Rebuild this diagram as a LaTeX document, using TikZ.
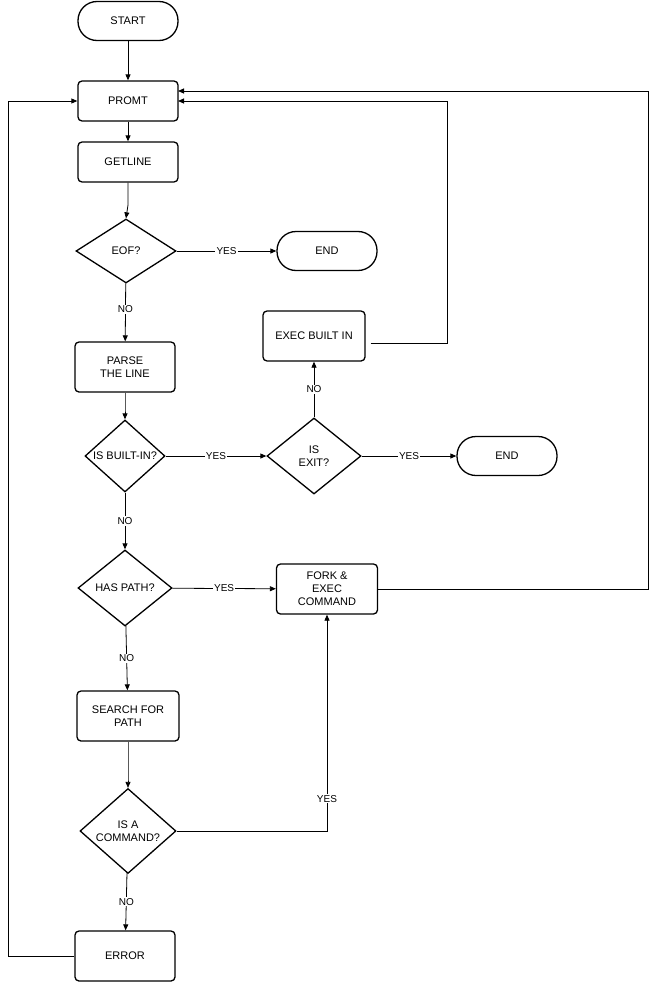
\documentclass[tikz,border=0pt]{standalone}
\usepackage{fontspec}
\setmainfont{Liberation Sans}
\usetikzlibrary{shapes.geometric,arrows.meta}
\begin{document}
\begin{tikzpicture}[x=1pt,y=-1pt,
 base/.style={draw,line width=1.3pt,align=center,font=\fontsize{11}{13}\selectfont,inner sep=0},
 term/.style={base,rounded corners=19pt,minimum width=100pt,minimum height=39pt},
 proc/.style={base,rounded corners=4pt,minimum width=100pt,minimum height=40pt},
 dec/.style={base,diamond},
 con/.style={line width=0.8pt,-{Triangle[length=6pt,width=5pt]}},
 lbl/.style={fill=white,inner sep=1pt,font=\fontsize{10}{12}\selectfont}]
\useasboundingbox (0,0) rectangle (656,982);
\node[term] (start) at (128,21) {START};
\node[proc] (promt) at (128,101) {PROMT};
\node[proc] (getline) at (128,162) {GETLINE};
\node[dec,minimum width=100pt,minimum height=64pt] (eof) at (126,251) {EOF?};
\node[term] (end1) at (327,251) {END};
\node[proc,minimum height=50pt] (parse) at (125,367) {PARSE\\THE LINE};
\node[dec,minimum width=80pt,minimum height=72pt] (builtin) at (125,456) {IS BUILT-IN?};
\node[dec,minimum width=94pt,minimum height=76pt] (isexit) at (314,456) {IS\\EXIT?};
\node[term] (end2) at (507,456) {END};
\node[proc,minimum width=102pt,minimum height=50pt] (execb) at (314,336) {EXEC BUILT IN};
\node[dec,minimum width=94pt,minimum height=76pt] (haspath) at (125,588) {HAS PATH?};
\node[proc,minimum width=101pt,minimum height=50pt] (fork) at (327,589) {FORK \&\\EXEC\\COMMAND};
\node[proc,minimum width=102pt,minimum height=50pt] (search) at (128,716) {SEARCH FOR\\PATH};
\node[dec,minimum width=96pt,minimum height=76pt] (iscmd) at (128,831) {IS A\\COMMAND?};
\node[proc,minimum height=50pt] (error) at (125,956) {ERROR};
\coordinate (p1) at (178,101);
\coordinate (p2) at (178,91);
\draw[con] (start) -- (promt);
\draw[con] (promt) -- (getline);
\draw[con] (getline.south) -- (128,205) -- (eof.north);
\draw[con] (eof) -- node[lbl]{YES} (end1);
\draw[con] (eof) -- node[lbl,pos=0.45]{NO} (parse);
\draw[con] (parse.south) -- (125,410) -- (builtin.north);
\draw[con] (builtin) -- node[lbl]{YES} (isexit);
\draw[con] (isexit) -- node[lbl]{YES} (end2);
\draw[con] (isexit) -- node[lbl]{NO} (execb);
\draw[con] (execb.east) ++(5,7) coordinate (q1) (q1) -- (447,343) -- (447,101) -- (p1);
\draw[con] (fork.east) -- (648,589) -- (648,91) -- (p2);
\draw[con] (builtin) -- node[lbl]{NO} (haspath);
\draw[con] (haspath) -- node[lbl]{YES} (fork);
\draw[con] (haspath) -- node[lbl]{NO} (search);
\draw[con] (search.south) -- (128,780) -- (iscmd.north);
\draw[con] (iscmd.east) -- (327,831) -- node[lbl,pos=0.15]{YES} (fork.south);
\draw[con] (iscmd) -- node[lbl]{NO} (error);
\draw[con] (error.west) -- (8,956) -- (8,101) -- (promt.west);
\end{tikzpicture}
\end{document}
